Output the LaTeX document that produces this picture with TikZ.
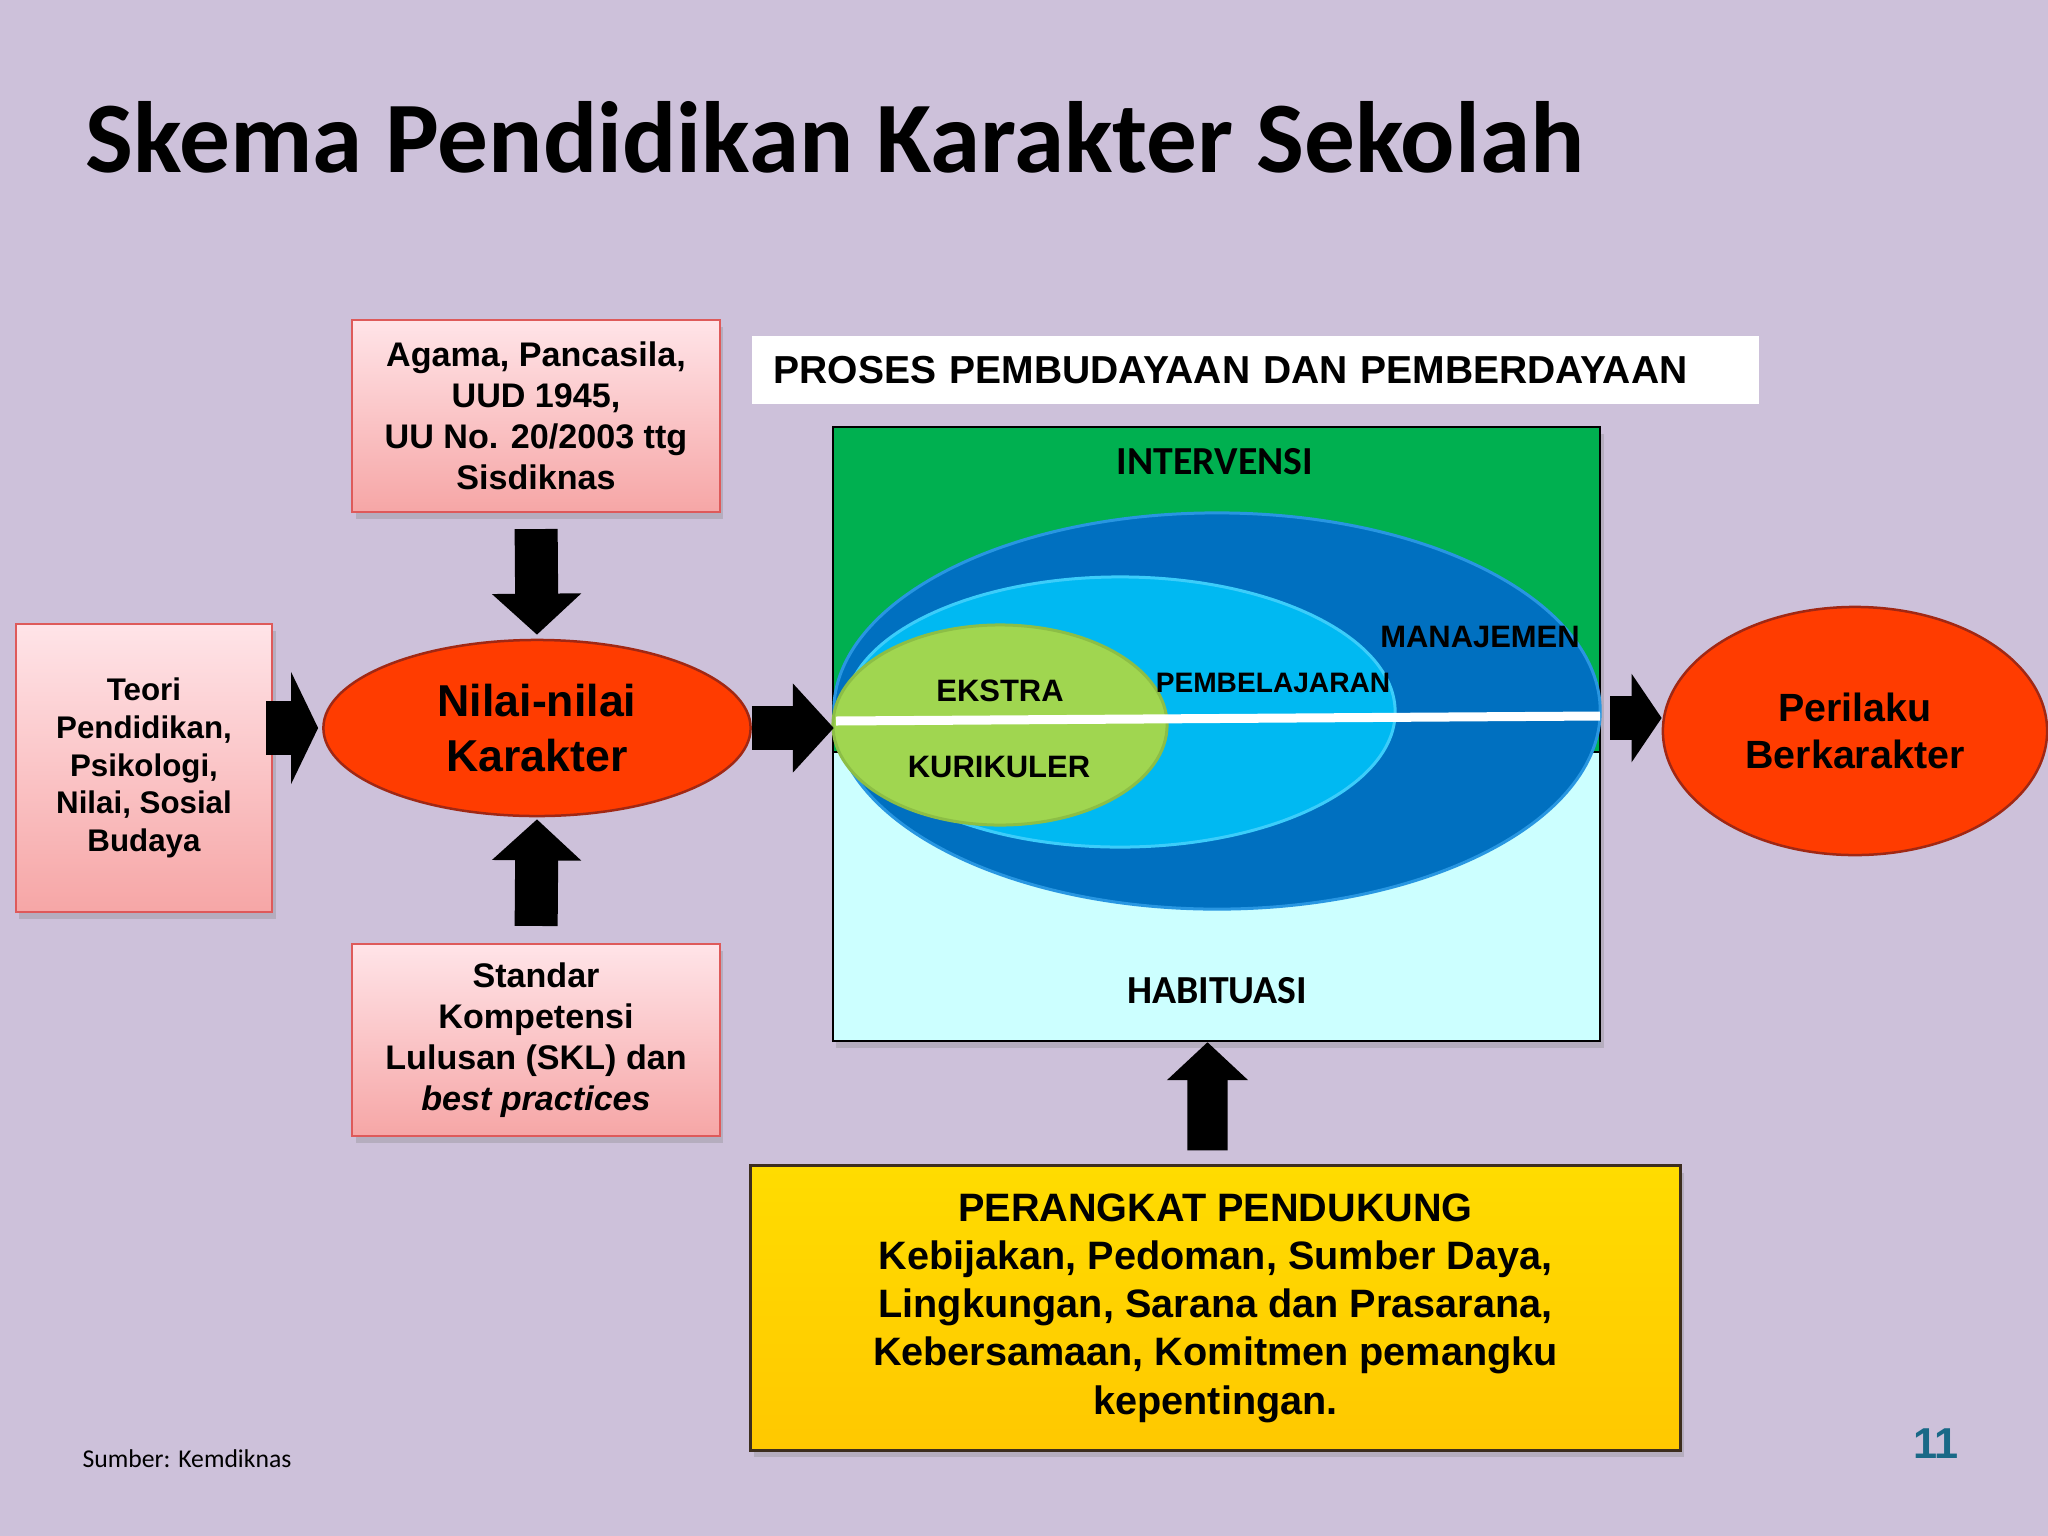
\documentclass[tikz,border=0pt]{standalone}
\usepackage{fontspec}
\setmainfont{Liberation Sans}
\newfontfamily\calib{Carlito}
\usetikzlibrary{arrows.meta,positioning,shapes.geometric,shadows}
\definecolor{bg}{RGB}{205,193,218}
\definecolor{pinktop}{RGB}{255,228,232}
\definecolor{pinkbot}{RGB}{246,166,166}
\definecolor{boxred}{RGB}{222,90,90}
\definecolor{ovalred}{RGB}{255,60,0}
\definecolor{ovalbrd}{RGB}{160,40,20}
\definecolor{intgreen}{RGB}{0,176,80}
\definecolor{habcyan}{RGB}{204,255,255}
\definecolor{mgmblue}{RGB}{0,112,192}
\definecolor{mgmrim}{RGB}{40,150,225}
\definecolor{pmbcyan}{RGB}{0,185,242}
\definecolor{pmbrim}{RGB}{60,205,250}
\definecolor{ekgreen}{RGB}{160,214,80}
\definecolor{ekrim}{RGB}{140,190,70}
\definecolor{yeltop}{RGB}{255,220,0}
\definecolor{yelbot}{RGB}{255,200,0}
\definecolor{yelbrd}{RGB}{60,45,30}
\definecolor{pgteal}{RGB}{25,105,135}
\begin{document}
\begin{tikzpicture}[x=0.01cm,y=-0.01cm]
      \tikzstyle{pbox}=[draw=boxred,line width=0.02cm,top color=pinktop,bottom color=pinkbot,align=center,inner sep=0pt,drop shadow={opacity=0.3,shadow xshift=1pt,shadow yshift=-2pt}]
      \tikzstyle{oval}=[ellipse,draw=ovalbrd,line width=0.025cm,fill=ovalred,inner sep=0pt,align=center]
      \tikzstyle{lbl}=[inner sep=0pt,font=\bfseries\fontsize{8.8}{10}\selectfont]
      \tikzstyle{barr}=[line width=0.43cm,-{Triangle[width=0.87cm,length=0.41cm]}]
      \useasboundingbox (0,0) rectangle (2048,1536);
      \fill[bg] (0,0) rectangle (2048,1536);
      \node[anchor=west,inner sep=0pt,font=\calib\bfseries\fontsize{28.8}{34}\selectfont] (title) at (85,137) {Skema Pendidikan Karakter Sekolah};
      % input boxes
      \node[pbox,minimum width=3.67cm,minimum height=1.92cm,font=\bfseries\fontsize{9.7}{11.7}\selectfont] (agama) at (536,416) {Agama, Pancasila,\\UUD 1945,\\UU No. 20/2003 ttg\\Sisdiknas};
      \node[pbox,minimum width=2.56cm,minimum height=2.88cm,font=\bfseries\fontsize{8.9}{10.7}\selectfont] (teori) at (144,768) {Teori\\Pendidikan,\\Psikologi,\\Nilai, Sosial\\Budaya};
      \node[pbox,minimum width=3.67cm,minimum height=1.92cm,font=\bfseries\fontsize{9.7}{11.7}\selectfont] (standar) at (536,1040) {Standar\\Kompetensi\\Lulusan (SKL) dan\\\textit{best practices}};
      \node[oval,minimum width=4.27cm,minimum height=1.76cm,font=\bfseries\fontsize{12.7}{15.6}\selectfont] (nilai) at (537,728) {Nilai-nilai\\Karakter};
      % process block
      \node[fill=white,minimum width=10.07cm,minimum height=0.68cm,text width=9.63cm,align=left,inner xsep=0.22cm,font=\bfseries\fontsize{11.1}{13}\selectfont] (proses) at (1255.5,370) {PROSES PEMBUDAYAAN DAN PEMBERDAYAAN};
      \node[draw,line width=0.02cm,fill=habcyan,minimum width=7.67cm,minimum height=6.14cm,inner sep=0pt,drop shadow={opacity=0.3,shadow xshift=1pt,shadow yshift=-2pt}] (proc) at (1216.5,734) {};
      \filldraw[fill=intgreen,draw=black,line width=0.02cm] (833,427) rectangle (1600,752);
      \filldraw[fill=mgmblue,draw=mgmrim,line width=0.03cm] (1217,711) ellipse [x radius=3.83cm,y radius=1.98cm];
      \filldraw[fill=pmbcyan,draw=pmbrim,line width=0.03cm] (1120,712) ellipse [x radius=2.75cm,y radius=1.35cm];
      \filldraw[fill=ekgreen,draw=ekrim,line width=0.03cm] (1000,725) ellipse [x radius=1.67cm,y radius=1cm];
      \draw[white,line width=0.09cm] (836,721) -- (1600,716);
      \node[inner sep=0pt,font=\calib\bfseries\fontsize{11.3}{13}\selectfont] (interv) at (1215,462) {INTERVENSI};
      \node[lbl] (manaj) at (1480,637) {MANAJEMEN};
      \node[lbl,font=\bfseries\fontsize{8}{10}\selectfont] (pembel) at (1273,683) {PEMBELAJARAN};
      \node[lbl] (ekstra) at (1000,691) {EKSTRA};
      \node[lbl] (kurik) at (999,767) {KURIKULER};
      \node[inner sep=0pt,font=\calib\bfseries\fontsize{11.3}{13}\selectfont] (habit) at (1217,991) {HABITUASI};
      % output and support
      \node[oval,minimum width=3.84cm,minimum height=2.48cm,font=\bfseries\fontsize{11.2}{13.4}\selectfont] (perilaku) at (1855,731) {Perilaku\\Berkarakter};
      \node[draw=yelbrd,line width=0.03cm,top color=yeltop,bottom color=yelbot,minimum width=9.29cm,minimum height=2.84cm,align=center,inner sep=0pt,font=\bfseries\fontsize{11.27}{13.7}\selectfont,drop shadow={opacity=0.3,shadow xshift=1pt,shadow yshift=-2pt}] (perangkat) at (1215.5,1308) {PERANGKAT PENDUKUNG\\Kebijakan, Pedoman, Sumber Daya,\\Lingkungan, Sarana dan Prasarana,\\Kebersamaan, Komitmen pemangku\\kepentingan.};
      \node[anchor=west,inner sep=0pt,font=\calib\fontsize{7.3}{9}\selectfont] (sumber) at (82,1459) {Sumber: Kemdiknas};
      \node[inner sep=0pt,text=pgteal,font=\bfseries\fontsize{12.3}{14}\selectfont] (pnum) at (1936,1444) {11};
      % block arrows
      \coordinate (mid) at (833,718);
      \draw[barr,line width=0.54cm,-{Triangle[width=1.11cm,length=0.27cm]},shorten <=-0.07cm,shorten >=0.04cm] (teori.east |- nilai) -- (nilai.west);
      \draw[barr,shorten <=0.16cm,shorten >=0.04cm] (agama.south) -- (nilai.north);
      \draw[barr,shorten <=0.17cm,shorten >=0.02cm] (standar.north) -- (nilai.south);
      \draw[barr,shorten >=-0.02cm] (nilai.east) -- (proc.west |- nilai);
      \draw[barr,-{Triangle[width=0.87cm,length=0.3cm]},shorten <=0.09cm] (proc.east |- mid) -- (perilaku.west |- mid);
      \draw[barr,line width=0.4cm,-{Triangle[width=0.79cm,length=0.38cm]},shorten <=0.14cm] ([xshift=-0.08cm]perangkat.north) -- ([xshift=-0.09cm]proc.south);
    \end{tikzpicture}
\end{document}
